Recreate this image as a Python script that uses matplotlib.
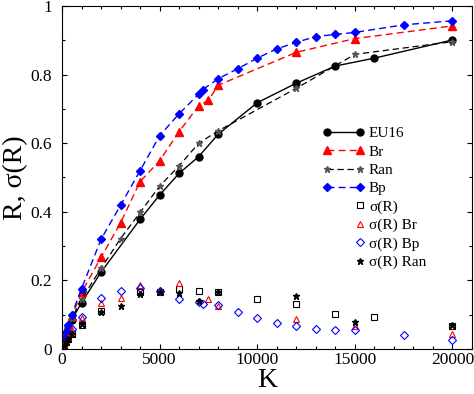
import matplotlib
matplotlib.use('Agg')
import matplotlib.pyplot as plt
from matplotlib.legend_handler import HandlerLine2D
from matplotlib.ticker import MultipleLocator

plt.rcParams['font.family'] = ['Liberation Serif', 'DejaVu Serif']

# R(K) curves
k_eu = [100, 200, 300, 500, 1000, 2000, 4000, 5000, 6000, 7000, 8000, 10000, 12000, 14000, 16000, 20000]
r_eu = [0.02, 0.04, 0.06, 0.085, 0.135, 0.224, 0.378, 0.449, 0.512, 0.561, 0.626, 0.718, 0.775, 0.825, 0.848, 0.901]

k_br = [100, 200, 300, 500, 1000, 2000, 3000, 4000, 5000, 6000, 7000, 7500, 8000, 12000, 15000, 20000]
r_br = [0.025, 0.045, 0.065, 0.095, 0.165, 0.267, 0.368, 0.488, 0.549, 0.634, 0.709, 0.725, 0.769, 0.865, 0.905, 0.942]

k_ran = [100, 200, 300, 500, 1000, 2000, 3000, 4000, 5000, 6000, 7000, 8000, 12000, 15000, 20000]
r_ran = [0.02, 0.04, 0.06, 0.09, 0.145, 0.235, 0.322, 0.398, 0.475, 0.534, 0.600, 0.636, 0.760, 0.859, 0.896]

k_bp = [100, 200, 300, 500, 1000, 2000, 3000, 4000, 5000, 6000, 7000, 7200, 8000, 9000, 10000,
        11000, 12000, 13000, 14000, 15000, 17500, 20000]
r_bp = [0.03, 0.05, 0.07, 0.10, 0.176, 0.320, 0.419, 0.520, 0.622, 0.686, 0.743, 0.756, 0.788, 0.817, 0.848,
        0.875, 0.894, 0.911, 0.917, 0.923, 0.945, 0.957]

# sigma(R)
s_eu = [0.01, 0.02, 0.03, 0.044, 0.070, 0.110, 0.165, 0.165, 0.174, 0.169, 0.166, 0.145, 0.131, 0.103, 0.094, 0.067]

k_sbr = [100, 200, 300, 500, 1000, 2000, 3000, 4000, 5000, 6000, 7500, 8000, 12000, 15000, 20000]
s_br = [0.015, 0.025, 0.035, 0.055, 0.090, 0.135, 0.149, 0.188, 0.172, 0.191, 0.145, 0.125, 0.087, 0.068, 0.044]

s_bp = [0.02, 0.03, 0.04, 0.058, 0.094, 0.150, 0.170, 0.177, 0.168, 0.146, 0.138, 0.130, 0.127, 0.109, 0.089,
        0.077, 0.068, 0.058, 0.056, 0.056, 0.042, 0.027]

s_ran = [0.01, 0.02, 0.03, 0.045, 0.073, 0.108, 0.125, 0.160, 0.165, 0.162, 0.141, 0.166, 0.155, 0.080, 0.071]

RED = '#ff0000'
BLUE = '#0000ff'
GREY = '#555555'


class EndMarker(HandlerLine2D):
    # only one marker, at the right end of the handle (xmgrace style)
    def create_artists(self, *args, **kwargs):
        artists = super().create_artists(*args, **kwargs)
        artists[0].set_markevery([1])
        return artists


fig = plt.figure(figsize=(4.74, 3.94), dpi=100)
ax = fig.add_axes([62 / 474, 45 / 394, 410 / 474, 343 / 394])

ax.plot(k_eu, r_eu, '-', color='black', lw=1.0, marker='o', ms=5, label='EU16')
ax.plot(k_br, r_br, color=RED, lw=1.0, dashes=(5, 3), marker='^', ms=5.3, label='Br')
ax.plot(k_ran, r_ran, color='black', lw=0.9, dashes=(5, 3), marker='*', ms=5,
        mfc=GREY, mec=GREY, label='Ran')
ax.plot(k_bp, r_bp, color=BLUE, lw=1.0, dashes=(5, 3), marker='D', ms=3.8, label='Bp')

sig_eu, = ax.plot(k_eu, s_eu, ls='none', marker='s', ms=4.2, mfc='none', mec='black', mew=0.8,
                  label='σ(R)')
sig_br, = ax.plot(k_sbr, s_br, ls='none', marker='^', ms=4.6, mfc='none', mec=RED, mew=0.8,
                  label='σ(R) Br')
sig_bp, = ax.plot(k_bp, s_bp, ls='none', marker='D', ms=3.6, mfc='none', mec=BLUE, mew=0.8,
                  label='σ(R) Bp')
sig_ran, = ax.plot(k_ran, s_ran, ls='none', marker='*', ms=5, color='black', label='σ(R) Ran')

ax.set_xlim(0, 21000)
ax.set_ylim(0, 1)
ax.xaxis.set_major_locator(MultipleLocator(5000))
ax.xaxis.set_minor_locator(MultipleLocator(1000))
ax.yaxis.set_minor_locator(MultipleLocator(0.1))
ax.set_yticks([0, 0.2, 0.4, 0.6, 0.8, 1.0], ['0', '0.2', '0.4', '0.6', '0.8', '1'])

ax.tick_params(which='both', direction='in', top=True, right=True, width=0.8)
ax.tick_params(which='major', length=3.6)
ax.tick_params(which='minor', length=2.2)
ax.tick_params(axis='x', labelsize=12.5, pad=2.5)
ax.tick_params(axis='y', labelsize=12.5, pad=7)
for sp in ax.spines.values():
    sp.set_linewidth(0.8)

ax.set_xlabel('K', fontsize=20, labelpad=0)
ax.set_ylabel('R, σ(R)', fontsize=20, labelpad=2)

handler = {sig_eu: EndMarker(), sig_br: EndMarker(), sig_bp: EndMarker(), sig_ran: EndMarker()}
ax.legend(loc='upper left', bbox_to_anchor=(0.635, 0.648), frameon=False, fontsize=11,
          numpoints=2, handlelength=2.75, handletextpad=0.3, labelspacing=0.3,
          borderpad=0, borderaxespad=0, handler_map=handler)

fig.savefig('out.png', dpi=100)
